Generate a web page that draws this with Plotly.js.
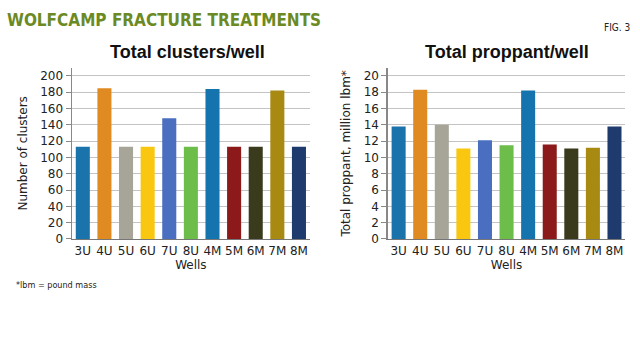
<!DOCTYPE html>
<html><head><meta charset="utf-8">
<script src="https://cdn.plot.ly/plotly-3.0.1.min.js"></script>
<style>html,body{margin:0;padding:0;background:#fff}#c{width:640px;height:355px}</style>
</head><body><div id="c"></div>
<script>
const wells = ["3U","4U","5U","6U","7U","8U","4M","5M","6M","7M","8M"];
const clusters = [113,185,113,113,148,113,184,113,113,182,113];
const proppant = [13.8,18.3,14.0,11.1,12.1,11.5,18.2,11.6,11.1,11.2,13.8];
const colors = ["#1a73aa","#e08a22","#a6a598","#f9c70f","#4a6ec0","#6cbd4a","#1574ae","#8c1a1a","#3a3a1c","#a88a12","#1f3b6e"];

const tickFont = {family:"DejaVu Sans", size:12, color:"#222"};
const titleFont = {family:"DejaVu Sans", size:12, color:"#222"};
function xax(domain){return {domain:domain, type:"category", showline:true, linecolor:"#777", linewidth:1.5,
  ticks:"", tickfont:tickFont, showgrid:false, fixedrange:true,
  title:{text:"Wells", font:titleFont, standoff:2}};}
function yax(domain,range,dtick,txt){return {domain:domain, range:range, dtick:dtick, showline:true, linecolor:"#888", linewidth:1.5,
  ticks:"outside", ticklen:5, tickcolor:"#888", tickfont:tickFont, gridcolor:"#c4c4c4", gridwidth:1, zeroline:false,
  title:{text:txt, font:titleFont, standoff:10}};}

const data = [
  {type:"bar", x:wells, y:clusters, marker:{color:colors}, xaxis:"x", yaxis:"y", hoverinfo:"none"},
  {type:"bar", x:wells, y:proppant, marker:{color:colors}, xaxis:"x2", yaxis:"y2", hoverinfo:"none"}
];
const layout = {
  width:640, height:355, margin:{l:0,r:0,t:0,b:0}, showlegend:false,
  paper_bgcolor:"#fff", plot_bgcolor:"#fff", bargap:0.35,
  xaxis: xax([0.1125,0.484]),
  yaxis: yax([0.327,0.809],[0,210],20,"Number of clusters"),
  xaxis2: Object.assign(xax([0.606,0.977]),{anchor:"y2"}),
  yaxis2: Object.assign(yax([0.327,0.809],[0,21],2,"Total proppant, million lbm*"),{anchor:"x2"}),
  annotations:[
    {text:"<b>WOLFCAMP FRACTURE TREATMENTS</b>", xref:"paper", yref:"paper", x:0.008, y:1-20/355, xanchor:"left", yanchor:"middle", showarrow:false,
     font:{family:"DejaVu Sans Condensed", size:17, color:"#6b8a24"}},
    {text:"FIG. 3", xref:"paper", yref:"paper", x:0.988, y:1-27/355, xanchor:"right", yanchor:"middle", showarrow:false,
     font:{family:"DejaVu Sans Condensed", size:10, color:"#222"}},
    {text:"<b>Total clusters/well</b>", xref:"paper", yref:"paper", x:187/640, y:1-52/355, xanchor:"center", yanchor:"middle", showarrow:false,
     font:{family:"Liberation Sans", size:18, color:"#111"}},
    {text:"<b>Total proppant/well</b>", xref:"paper", yref:"paper", x:507/640, y:1-52/355, xanchor:"center", yanchor:"middle", showarrow:false,
     font:{family:"Liberation Sans", size:18, color:"#111"}},
    {text:"*lbm = pound mass", xref:"paper", yref:"paper", x:14/640, y:1-285/355, xanchor:"left", yanchor:"middle", showarrow:false,
     font:{family:"DejaVu Sans Condensed", size:9, color:"#222"}}
  ]
};
Plotly.newPlot("c", data, layout, {staticPlot:true, displayModeBar:false});
</script></body></html>
